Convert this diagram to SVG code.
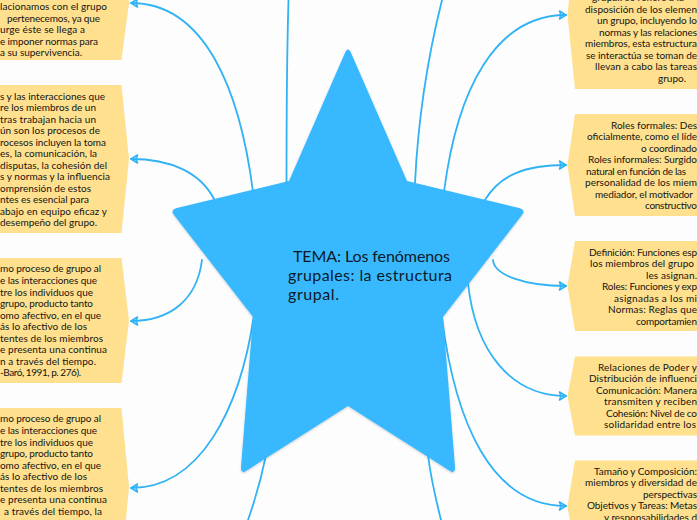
<svg xmlns="http://www.w3.org/2000/svg" width="697" height="520" viewBox="0 0 697 520">
<style>
.box{fill:#ffe08e}
.c{fill:none;stroke:#30b2f4;stroke-width:1.8;stroke-linecap:round}
.a{marker-end:url(#arrow)}
text{font-family:"Lato","Noto Sans",sans-serif;font-size:10px;fill:#141414;letter-spacing:0}
.main{font-size:16px;fill:#0b1a26}
</style>
<defs>
<marker id="arrow" markerUnits="userSpaceOnUse" markerWidth="12" markerHeight="12" refX="8" refY="6" orient="auto">
<path d="M1.500 2 L8 6 L1.500 10 L3 6 Z" fill="none" stroke="#30b2f4" stroke-width="1.6" stroke-linejoin="round"/>
</marker>
<filter id="sh" x="-5%" y="-5%" width="110%" height="110%"><feDropShadow dx="0" dy="1" stdDeviation="1.2" flood-color="#000" flood-opacity=".2"/></filter>
</defs>
<rect width="697" height="520" fill="#fdfdfd"/>
<g id="connectors">
<path class="c a" d="M253 192 C240 90 205 3 131 3"/>
<path class="c a" d="M214 199 C200 172 170 159 131 159"/>
<path class="c a" d="M202 260 C197 300 170 321 131 321"/>
<path class="c a" d="M254 315 C240 410 200 488 131 488"/>
<path class="c" d="M266 455 C261 480 255 500 248 520"/>
<path class="c" d="M286.500 185 C286.500 120 287 50 288.500 0"/>
<path class="c" d="M415 183 C418 120 427 60 442 0"/>
<path class="c a" d="M444 192 C457 90 495 15 566 15"/>
<path class="c a" d="M485 200 C500 175 525 165 566 165"/>
<path class="c a" d="M493 260 C494 275 525 286 566 286"/>
<path class="c a" d="M468 283 C475 350 510 396 566 396"/>
<path class="c a" d="M442 318 C455 420 490 506 566 506"/>
<path class="c" d="M428 455 C431 480 436 500 441 520"/>
</g>
<g id="center">
<path filter="url(#sh)" fill="#38b9ff" d="M344.500 54 Q348 45 351.500 54 L407 181 L519 208 Q526 210 522 215 L443 317 L455 467 Q455.500 474 450 471 L348 406 L246 471 Q240.500 474 241 467 L253 317 L174 215 Q170 210 177 208 L289 181 Z"/>
<text class="main" x="293" y="262" textLength="157">TEMA: Los fenómenos</text>
<text class="main" x="288" y="281" textLength="164">grupales: la estructura</text>
<text class="main" x="288" y="300" textLength="51">grupal.</text>
</g>
<g id="left1">
<polygon class="box" points="-5,-54 121.500,-54 129,3 121.500,60 -5,60"/>
<text x="0" y="10" textLength="107">lacionamos con el grupo</text>
<text x="7" y="21.500" textLength="93">pertenecemos, ya que</text>
<text x="0" y="33" textLength="85">urge éste se llega a</text>
<text x="0" y="44.500" textLength="98">e imponer normas para</text>
<text x="0" y="56" textLength="82">a su supervivencia.</text>
</g>
<g id="left2">
<polygon class="box" points="-5,85 121.500,85 129,159 121.500,233 -5,233"/>
<text x="0" y="99.500" textLength="105">s y las interacciones que</text>
<text x="0" y="111" textLength="96">re los miembros de un</text>
<text x="0" y="122.500" textLength="96">tras trabajan hacia un</text>
<text x="0" y="134" textLength="100">ún son los procesos de</text>
<text x="0" y="145.500" textLength="106">rocesos incluyen la toma</text>
<text x="0" y="157" textLength="97">es, la comunicación, la</text>
<text x="0" y="168.500" textLength="107">disputas, la cohesión del</text>
<text x="0" y="180" textLength="110">s y normas y la influencia</text>
<text x="0" y="191.500" textLength="91">omprensión de estos</text>
<text x="0" y="203" textLength="89">ntes es esencial para</text>
<text x="0" y="214.500" textLength="107">abajo en equipo eficaz y</text>
<text x="0" y="226" textLength="97">desempeño del grupo.</text>
</g>
<g id="left3">
<polygon class="box" points="-5,258 121.500,258 129,320.500 121.500,383 -5,383"/>
<text x="0" y="272" textLength="101">mo proceso de grupo al</text>
<text x="0" y="284" textLength="97">e las interacciones que</text>
<text x="0" y="295.500" textLength="93">tre los individuos que</text>
<text x="0" y="307" textLength="93">grupo, producto tanto</text>
<text x="0" y="318.500" textLength="101">omo afectivo, en el que</text>
<text x="0" y="330" textLength="87">ás lo afectivo de los</text>
<text x="0" y="341.500" textLength="103">tentes de los miembros</text>
<text x="0" y="353" textLength="107">e presenta una continua</text>
<text x="0" y="364.500" textLength="96">n a través del tiempo.</text>
<text x="0" y="376" textLength="81">-Baró, 1991, p. 276).</text>
</g>
<g id="left4">
<polygon class="box" points="-5,408 121.500,408 129,487 121.500,566 -5,566"/>
<text x="0" y="422" textLength="101">mo proceso de grupo al</text>
<text x="0" y="434" textLength="97">e las interacciones que</text>
<text x="0" y="445.500" textLength="93">tre los individuos que</text>
<text x="0" y="457" textLength="93">grupo, producto tanto</text>
<text x="0" y="468.500" textLength="101">omo afectivo, en el que</text>
<text x="0" y="480" textLength="87">ás lo afectivo de los</text>
<text x="0" y="491.500" textLength="103">tentes de los miembros</text>
<text x="0" y="503" textLength="107">e presenta una continua</text>
<text x="4" y="514.500" textLength="98">a través del tiempo, la</text>
</g>
<g id="right1">
<polygon class="box" points="575,-59 702,-59 702,89 575,89 567.500,15"/>
<text x="592" y="1" textLength="92">grupal: se refiere a la</text>
<text x="585" y="12.500" textLength="112">disposición de los elemen</text>
<text x="597" y="24" textLength="100">un grupo, incluyendo lo</text>
<text x="599" y="35.500" textLength="98">normas y las relaciones</text>
<text x="585" y="47" textLength="112">miembros, esta estructura</text>
<text x="586" y="58.500" textLength="111">se interactúa se toman de</text>
<text x="595" y="70" textLength="102">llevan a cabo las tareas</text>
<text x="658" y="81.500" textLength="28">grupo.</text>
</g>
<g id="right2">
<polygon class="box" points="575,114 702,114 702,216 575,216 567.500,165"/>
<text x="611" y="128.500" textLength="86">Roles formales: Des</text>
<text x="587" y="140" textLength="110">oficialmente, como el líde</text>
<text x="641" y="151.500" textLength="56">o coordinado</text>
<text x="588" y="163" textLength="109">Roles informales: Surgido</text>
<text x="586" y="174.500" textLength="100">natural en función de las</text>
<text x="585" y="186" textLength="112">personalidad de los miem</text>
<text x="595" y="197.500" textLength="98">mediador, el motivador</text>
<text x="645" y="209" textLength="52">constructivo</text>
</g>
<g id="right3">
<polygon class="box" points="575,241 702,241 702,331 575,331 567.500,286"/>
<text x="589" y="255.500" textLength="108">Definición: Funciones esp</text>
<text x="590" y="267" textLength="104">los miembros del grupo</text>
<text x="646" y="278.500" textLength="51">les asignan.</text>
<text x="602" y="290" textLength="95">Roles: Funciones y exp</text>
<text x="614" y="301.500" textLength="83">asignadas a los mi</text>
<text x="608" y="313" textLength="89">Normas: Reglas que</text>
<text x="636" y="324.500" textLength="61">comportamien</text>
</g>
<g id="right4">
<polygon class="box" points="575,356.500 702,356.500 702,435.500 575,435.500 567.500,396"/>
<text x="598" y="370.500" textLength="99">Relaciones de Poder y</text>
<text x="589" y="382" textLength="108">Distribución de influenci</text>
<text x="596" y="393.500" textLength="101">Comunicación: Manera</text>
<text x="604" y="405" textLength="93">transmiten y reciben</text>
<text x="606" y="416.500" textLength="91">Cohesión: Nivel de co</text>
<text x="604" y="428" textLength="92">solidaridad entre los</text>
</g>
<g id="right5">
<polygon class="box" points="575,460.500 702,460.500 702,552 575,552 567.500,506"/>
<text x="594" y="474.500" textLength="103">Tamaño y Composición:</text>
<text x="585" y="486" textLength="112">miembros y diversidad de</text>
<text x="643" y="497.500" textLength="54">perspectivas</text>
<text x="587" y="509" textLength="110">Objetivos y Tareas: Metas</text>
<text x="604" y="520.500" textLength="93">y responsabilidades d</text>
</g>
</svg>
